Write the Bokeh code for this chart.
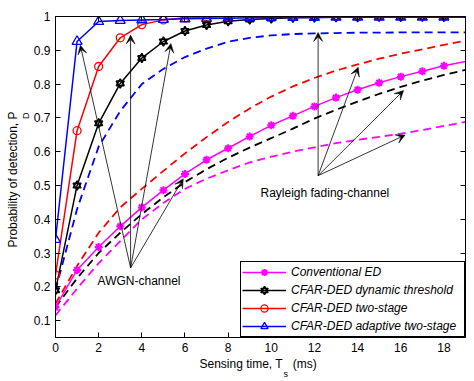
from bokeh.plotting import figure
from bokeh.models import (Range1d, LinearAxis, FixedTicker, Label, Arrow, VeeHead, Title,
                          Legend, LegendItem, ColumnDataSource, CDSView, IndexFilter)
from bokeh.embed import file_html
from bokeh.resources import INLINE

# ---------------- data ----------------
ts = list(range(20))  # sensing time (ms)

# AWGN channel (solid lines with markers)
conv_ed = [0.140, 0.250, 0.318, 0.379, 0.435, 0.486, 0.534, 0.576, 0.610, 0.645,
           0.678, 0.706, 0.734, 0.760, 0.783, 0.804, 0.822, 0.838, 0.854, 0.867]
dyn_thr = [0.190, 0.500, 0.684, 0.802, 0.877, 0.926, 0.957, 0.975, 0.986, 0.991,
           0.994, 0.996, 0.997, 0.998, 0.998, 0.999, 0.999, 0.999, 0.999, 0.999]
two_stage = [0.235, 0.662, 0.852, 0.937, 0.976, 0.990, 0.996, 0.998, 0.999, 1.000,
             1.000, 1.000, 1.000, 1.000, 1.000, 1.000, 1.000, 1.000, 1.000, 1.000]
adaptive = [0.340, 0.926, 0.985, 0.988, 0.990, 0.991, 0.993, 0.994, 0.995, 0.996,
            0.997, 0.997, 0.997, 0.998, 0.998, 0.998, 0.998, 0.998, 0.998, 0.998]

# Rayleigh fading channel (dashed lines)
conv_ed_r = [0.115, 0.195, 0.270, 0.335, 0.400, 0.448, 0.490, 0.520, 0.545, 0.568,
             0.585, 0.600, 0.613, 0.625, 0.635, 0.644, 0.653, 0.664, 0.676, 0.688]
dyn_thr_r = [0.140, 0.225, 0.300, 0.360, 0.415, 0.465, 0.510, 0.548, 0.582, 0.612,
             0.640, 0.668, 0.698, 0.724, 0.748, 0.771, 0.792, 0.810, 0.827, 0.842]
two_stage_r = [0.150, 0.262, 0.360, 0.435, 0.490, 0.543, 0.595, 0.643, 0.688, 0.728,
               0.763, 0.793, 0.818, 0.840, 0.858, 0.875, 0.890, 0.903, 0.916, 0.928]
adaptive_r = [0.190, 0.430, 0.615, 0.720, 0.800, 0.845, 0.880, 0.905, 0.925, 0.937,
              0.944, 0.948, 0.950, 0.951, 0.952, 0.952, 0.953, 0.953, 0.953, 0.953]

legend_labels = ["Conventional ED", "CFAR-DED dynamic threshold",
                 "CFAR-DED two-stage", "CFAR-DED adaptive two-stage"]
x_ticks = [0, 2, 4, 6, 8, 10, 12, 14, 16, 18]
y_ticks = [0.1, 0.2, 0.3, 0.4, 0.5, 0.6, 0.7, 0.8, 0.9, 1.0]

awgn_origin = (3.48, 0.256)
awgn_tips = [(1.15, 0.915), (3.48, 0.945), (5.35, 0.920), (5.92, 0.520)]
ray_origin = (12.17, 0.529)
ray_tips = [(12.17, 0.953), (14.03, 0.850), (16.13, 0.781), (16.20, 0.649)]

FONT = "Liberation Sans"
NB = "\u00a0"

# ---------------- figure ----------------
p = figure(width=474, height=381, output_backend="svg", toolbar_location=None,
           x_range=Range1d(0, 19), y_range=Range1d(0.05, 1.0),
           min_border_left=55, min_border_right=9, min_border_top=16, min_border_bottom=44)
p.xgrid.visible = False
p.ygrid.visible = False
p.outline_line_color = "black"
p.outline_line_alpha = 1
p.outline_line_width = 1
p.background_fill_color = "white"

xt = FixedTicker(ticks=x_ticks)
yt = FixedTicker(ticks=y_ticks)

for ax in (p.xaxis[0], p.yaxis[0]):
    ax.major_tick_in = 5
    ax.major_tick_out = 0
    ax.minor_tick_in = 0
    ax.minor_tick_out = 0
    ax.axis_line_color = "black"
    ax.major_tick_line_color = "black"
    ax.major_label_text_font = FONT
    ax.major_label_text_font_size = "12px"
    ax.major_label_text_color = "black"
    ax.major_label_standoff = 5
p.xaxis[0].ticker = xt
p.yaxis[0].ticker = yt
p.yaxis[0].major_label_overrides = {1.0: "1"}

ax_r = LinearAxis(ticker=yt, major_label_text_font_size="0px", major_label_standoff=0,
                  major_tick_in=5, major_tick_out=0, minor_tick_in=0, minor_tick_out=0,
                  axis_line_color="black")
ax_t = LinearAxis(ticker=xt, major_label_text_font_size="0px", major_label_standoff=0,
                  major_tick_in=5, major_tick_out=0, minor_tick_in=0, minor_tick_out=0,
                  axis_line_color="black")
p.add_layout(ax_r, "right")
p.add_layout(ax_t, "above")

# axis titles (with subscripts) as titles in the side panels
def ttl(text, size, align, offset, standoff):
    return Title(text=text, text_font=FONT, text_font_size=size, text_font_style="normal",
                 text_color="black", align=align, offset=offset, standoff=standoff)

p.add_layout(ttl("Sensing time, T" + NB * 3 + "(ms)", "12px", "left", 144, 0), "below")
p.add_layout(ttl("s", "9px", "left", 228, -7), "below")
p.add_layout(ttl("D", "9px", "right", 96, 0), "left")
p.add_layout(ttl("Probability of detection, P", "12px", "right", 95, -3), "left")

# ---------------- dashed Rayleigh curves ----------------
dash = "8 5"
p.line(ts, conv_ed_r, line_color="#ff00ff", line_width=1.8, line_dash=dash)
p.line(ts, dyn_thr_r, line_color="black", line_width=1.8, line_dash=dash)
p.line(ts, two_stage_r, line_color="#ff0000", line_width=1.8, line_dash=dash)
p.line(ts, adaptive_r, line_color="#0000ff", line_width=1.8, line_dash=dash)

# ---------------- solid AWGN curves with markers ----------------
view_idx = list(range(19))

def series(vals, color):
    src = ColumnDataSource(dict(x=ts, y=vals))
    ln = p.line("x", "y", source=src, line_color=color, line_width=1.5)
    return src, ln

src_ed, l_ed = series(conv_ed, "#ff00ff")
s_ed = p.scatter("x", "y", source=src_ed, view=CDSView(filter=IndexFilter(view_idx)),
                 marker="asterisk", size=8, line_color="#ff00ff", line_width=2)

src_dt, l_dt = series(dyn_thr, "black")
s_dt1 = p.scatter("x", "y", source=src_dt, view=CDSView(filter=IndexFilter(view_idx)),
                  marker="triangle", size=8, line_color="black", fill_color=None, line_width=1.5)
s_dt2 = p.scatter("x", "y", source=src_dt, view=CDSView(filter=IndexFilter(view_idx)),
                  marker="inverted_triangle", size=8, line_color="black", fill_color=None, line_width=1.5)

src_ts, l_ts = series(two_stage, "#ff0000")
s_ts = p.scatter("x", "y", source=src_ts, view=CDSView(filter=IndexFilter(view_idx)),
                 marker="circle", size=8, line_color="#ff0000", fill_color=None, line_width=1.3)

src_ad, l_ad = series(adaptive, "#0000ff")
s_ad = p.scatter("x", "y", source=src_ad, view=CDSView(filter=IndexFilter(view_idx)),
                 marker="triangle", size=10, line_color="#0000ff", fill_color=None, line_width=1.3)

# ---------------- annotations ----------------
for origin, tips in ((awgn_origin, awgn_tips), (ray_origin, ray_tips)):
    for tx, ty in tips:
        p.add_layout(Arrow(end=VeeHead(size=9, fill_color="black", line_color="black", line_width=0.5),
                           x_start=origin[0], y_start=origin[1], x_end=tx, y_end=ty,
                           line_color="black", line_width=0.8))

p.add_layout(Label(x=1.95, y=0.218, text="AWGN-channel", text_font=FONT, text_font_size="12px",
                   text_baseline="middle", text_align="left", text_color="black"))
p.add_layout(Label(x=9.5, y=0.477, text="Rayleigh fading-channel", text_font=FONT,
                   text_font_size="12px", text_baseline="middle", text_align="left",
                   text_color="black"))

# ---------------- legend ----------------
legend = Legend(items=[
    LegendItem(label=legend_labels[0], renderers=[l_ed, s_ed]),
    LegendItem(label=legend_labels[1], renderers=[l_dt, s_dt1, s_dt2]),
    LegendItem(label=legend_labels[2], renderers=[l_ts, s_ts]),
    LegendItem(label=legend_labels[3], renderers=[l_ad, s_ad]),
], location="bottom_right", margin=0, padding=1, spacing=0,
    label_height=18, glyph_height=18, glyph_width=44, label_standoff=5, label_width=172,
    label_text_font=FONT, label_text_font_style="italic", label_text_font_size="12px",
    label_text_color="black", border_line_color="black", border_line_width=1,
    border_line_alpha=1, background_fill_color="white", background_fill_alpha=1)
p.add_layout(legend)

open("out.html", "w").write(file_html(p, INLINE))
